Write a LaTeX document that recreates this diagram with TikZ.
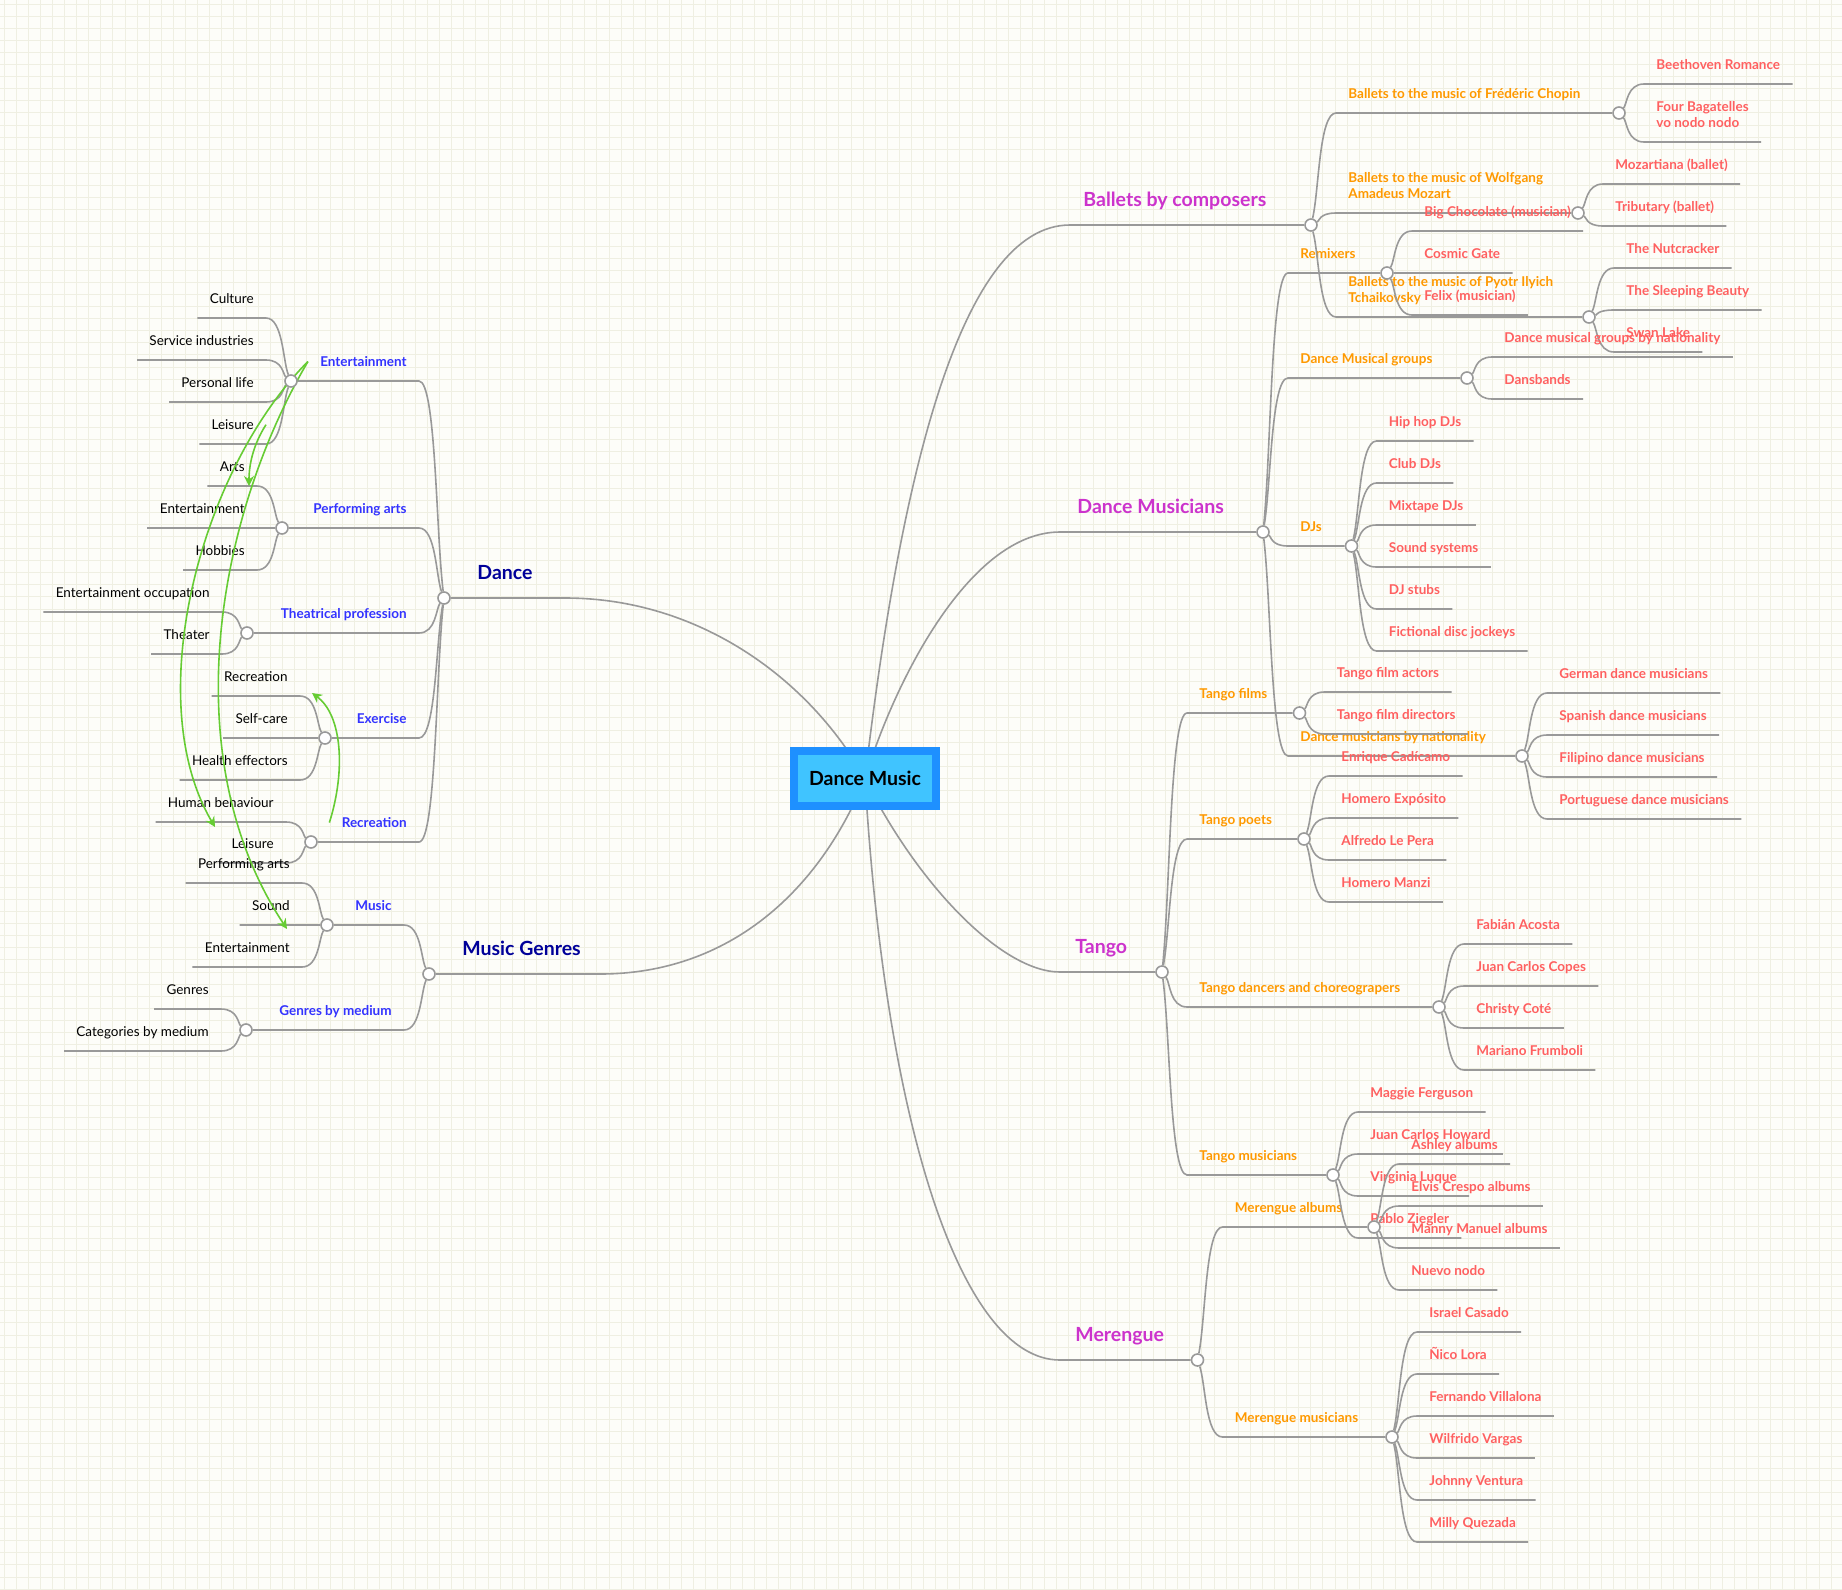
\documentclass[tikz,border=0pt]{standalone}
\usepackage{fontspec}
\setmainfont{Lato}
\usetikzlibrary{arrows.meta, calc}
\definecolor{paperBg}{HTML}{FDFDF9}
\definecolor{gridLine}{HTML}{EFEFE2}
\definecolor{branchGray}{HTML}{999999}
\definecolor{rootBlue}{HTML}{1E90FF}
\definecolor{rootFill}{HTML}{40C4FF}
\definecolor{navyTop}{HTML}{000099}
\definecolor{blueMid}{HTML}{3333FF}
\definecolor{magentaTop}{HTML}{CC33CC}
\definecolor{orangeMid}{HTML}{FF9900}
\definecolor{redLeaf}{HTML}{FF6060}
\definecolor{relGreen}{HTML}{66CC33}
\pgfdeclarelayer{top}
\pgfsetlayers{main,top}

\begin{document}
\begin{tikzpicture}[
    x=0.5pt, y=-0.5pt,
    branch/.style={draw=branchGray, line width=0.8pt},
    rel/.style={draw=relGreen, line width=0.8pt, -{Stealth[length=5pt, width=5pt]}},
    hub/.style={circle, draw=branchGray, fill=white, line width=0.8pt, minimum size=6pt, inner sep=0pt},
    rootbox/.style={rectangle, draw=rootBlue, fill=rootFill, line width=4pt, minimum width=71pt, minimum height=27.5pt, font=\fontsize{9.75}{11}\selectfont\bfseries},
    topL/.style={anchor=base west, inner sep=0pt, font=\fontsize{9.75}{11}\selectfont\bfseries, text=navyTop},
    topR/.style={topL, text=magentaTop},
    lbl/.style={inner xsep=6pt, inner ysep=7pt, text depth=0pt, align=left, font=\fontsize{6.75}{8}\selectfont},
    leafL/.style={lbl, anchor=south east},
    midL/.style={leafL, font=\fontsize{6.75}{8}\selectfont\bfseries, text=blueMid},
    leafR/.style={lbl, anchor=south west, font=\fontsize{6.75}{8}\selectfont\bfseries, text=redLeaf},
    midR/.style={leafR, text=orangeMid},
    kidR/.style={to path={.. controls ($(\tikztostart)!0.3!(\tikztostart |- \tikztotarget)+(8,0)$) and ($(\tikztostart |- \tikztotarget)+(8,0)$) .. (\tikztotarget) \tikztonodes}},
    kidL/.style={to path={.. controls ($(\tikztostart)!0.3!(\tikztostart |- \tikztotarget)+(-8,0)$) and ($(\tikztostart |- \tikztotarget)+(-8,0)$) .. (\tikztotarget) \tikztonodes}}
]
\useasboundingbox (0,0) rectangle (1842,1590);
\fill[paperBg] (0,0) rectangle (1842,1590);
\foreach \k in {0,...,151} \draw[gridLine, line width=0.5pt] ({4+12.1*\k},0) -- ({4+12.1*\k},1590);
\foreach \k in {0,...,131} \draw[gridLine, line width=0.5pt] (0,{4+12.1*\k}) -- (1842,{4+12.1*\k});

\begin{pgfonlayer}{top}
\node[rootbox] (root) at (865,778.5) {Dance Music};
\node[hub] (dance) at (444,598) {};
\node[hub] (genres) at (429,974) {};
\node[hub] (ballets) at (1311,225) {};
\node[hub] (dancemus) at (1263,532) {};
\node[hub] (tango) at (1162,972) {};
\node[hub] (merengue) at (1197.5,1360) {};
\node[hub] (ent) at (291,381) {};
\node[hub] (perf) at (282,528) {};
\node[hub] (theat) at (247,633) {};
\node[hub] (exer) at (325,738) {};
\node[hub] (recr) at (311,842) {};
\node[hub] (music) at (327,925) {};
\node[hub] (medium) at (246,1030) {};
\node[hub] (chopin) at (1619,113) {};
\node[hub] (mozart) at (1578,213) {};
\node[hub] (tchai) at (1589,317) {};
\node[hub] (remix) at (1387,273) {};
\node[hub] (groups) at (1467,378) {};
\node[hub] (djs) at (1351.5,546) {};
\node[hub] (natl) at (1522,756) {};
\node[hub] (films) at (1299.5,713) {};
\node[hub] (poets) at (1304,839) {};
\node[hub] (dancers) at (1439,1007) {};
\node[hub] (tmus) at (1333,1175) {};
\node[hub] (albums) at (1374,1227) {};
\node[hub] (mmus) at (1392,1437) {};
\end{pgfonlayer}

\node[topL] (danceL) at (477,579) {Dance};
\node[topL] (genresL) at (462,955) {Music Genres};
\node[topR] (balletsL) at (1083,206) {Ballets by composers};
\node[topR] (dancemusL) at (1077,513) {Dance Musicians};
\node[topR] (tangoL) at (1075,953) {Tango};
\node[topR] (merengueL) at (1075,1341) {Merengue};

\draw[branch] (dance) -- (565,598) .. controls (700,598) and (810,680) .. (root.center);
\draw[branch] (genres) -- (600,974) .. controls (730,974) and (820,890) .. (root.center);
\draw[branch] (root.center) .. controls (900,480) and (960,225) .. (1070,225) -- (ballets);
\draw[branch] (root.center) .. controls (895,680) and (970,532) .. (1060,532) -- (dancemus);
\draw[branch] (root.center) .. controls (915,880) and (1000,972) .. (1060,972) -- (tango);
\draw[branch] (root.center) .. controls (885,1120) and (960,1360) .. (1060,1360) -- (merengue);

\node[midL] (entL) at (419,381) {Entertainment};
\node[midL] (perfL) at (419,528) {Performing arts};
\node[midL] (theatL) at (419,633) {Theatrical profession};
\node[midL] (exerL) at (419,738) {Exercise};
\node[midL] (recrL) at (419,842) {Recreation};
\node[midL] (musicL) at (404,925) {Music};
\node[midL] (mediumL) at (404,1030) {Genres by medium};
\draw[branch] (dance) to[kidL] (entL.south east) -- (ent);
\draw[branch] (dance) to[kidL] (perfL.south east) -- (perf);
\draw[branch] (dance) to[kidL] (theatL.south east) -- (theat);
\draw[branch] (dance) to[kidL] (exerL.south east) -- (exer);
\draw[branch] (dance) to[kidL] (recrL.south east) -- (recr);
\draw[branch] (genres) to[kidL] (musicL.south east) -- (music);
\draw[branch] (genres) to[kidL] (mediumL.south east) -- (medium);

\node[midR] (chopinL) at (1336,113) {Ballets to the music of Frédéric Chopin};
\node[midR] (mozartL) at (1336,213) {Ballets to the music of Wolfgang\\Amadeus Mozart};
\node[midR] (tchaiL) at (1336,317) {Ballets to the music of Pyotr Ilyich\\Tchaikovsky};
\node[midR] (remixL) at (1288,273) {Remixers};
\node[midR] (groupsL) at (1288,378) {Dance Musical groups};
\node[midR] (djsL) at (1288,546) {DJs};
\node[midR] (natlL) at (1288,756) {Dance musicians by nationality};
\node[midR] (filmsL) at (1187,713) {Tango films};
\node[midR] (poetsL) at (1187,839) {Tango poets};
\node[midR] (dancersL) at (1187,1007) {Tango dancers and choreograpers};
\node[midR] (tmusL) at (1187,1175) {Tango musicians};
\node[midR] (albumsL) at (1222.5,1227) {Merengue albums};
\node[midR] (mmusL) at (1222.5,1437) {Merengue musicians};
\draw[branch] (ballets) to[kidR] (chopinL.south west) -- (chopin);
\draw[branch] (ballets) to[kidR] (mozartL.south west) -- (mozart);
\draw[branch] (ballets) to[kidR] (tchaiL.south west) -- (tchai);
\draw[branch] (dancemus) to[kidR] (remixL.south west) -- (remix);
\draw[branch] (dancemus) to[kidR] (groupsL.south west) -- (groups);
\draw[branch] (dancemus) to[kidR] (djsL.south west) -- (djs);
\draw[branch] (dancemus) to[kidR] (natlL.south west) -- (natl);
\draw[branch] (tango) to[kidR] (filmsL.south west) -- (films);
\draw[branch] (tango) to[kidR] (poetsL.south west) -- (poets);
\draw[branch] (tango) to[kidR] (dancersL.south west) -- (dancers);
\draw[branch] (tango) to[kidR] (tmusL.south west) -- (tmus);
\draw[branch] (merengue) to[kidR] (albumsL.south west) -- (albums);
\draw[branch] (merengue) to[kidR] (mmusL.south west) -- (mmus);

\foreach \y/\txt [count=\i] in {318/Culture, 360/Service industries, 402/Personal life, 444/Leisure}
  {\node[leafL] (ent\i) at (266,\y) {\txt}; \draw[branch] (ent) to[kidL] (ent\i.south east) -- (ent\i.south west);}
\foreach \y/\txt [count=\i] in {486/Arts, 528/Entertainment, 570/Hobbies}
  {\node[leafL] (perf\i) at (257,\y) {\txt}; \draw[branch] (perf) to[kidL] (perf\i.south east) -- (perf\i.south west);}
\foreach \y/\txt [count=\i] in {612/Entertainment occupation, 654/Theater}
  {\node[leafL] (theat\i) at (222,\y) {\txt}; \draw[branch] (theat) to[kidL] (theat\i.south east) -- (theat\i.south west);}
\foreach \y/\txt [count=\i] in {696/Recreation, 738/Self-care, 780/Health effectors}
  {\node[leafL] (exer\i) at (300,\y) {\txt}; \draw[branch] (exer) to[kidL] (exer\i.south east) -- (exer\i.south west);}
\foreach \y/\txt [count=\i] in {822/Human behaviour, 863/Leisure}
  {\node[leafL] (recr\i) at (286,\y) {\txt}; \draw[branch] (recr) to[kidL] (recr\i.south east) -- (recr\i.south west);}
\foreach \y/\txt [count=\i] in {883/Performing arts, 925/Sound, 967/Entertainment}
  {\node[leafL] (music\i) at (302,\y) {\txt}; \draw[branch] (music) to[kidL] (music\i.south east) -- (music\i.south west);}
\foreach \y/\txt [count=\i] in {1009/Genres, 1051/Categories by medium}
  {\node[leafL] (medium\i) at (221,\y) {\txt}; \draw[branch] (medium) to[kidL] (medium\i.south east) -- (medium\i.south west);}

\foreach \y/\txt [count=\i] in {84/Beethoven Romance, 142/Four Bagatelles\\vo nodo nodo}
  {\node[leafR] (chopin\i) at (1644,\y) {\txt}; \draw[branch] (chopin) to[kidR] (chopin\i.south west) -- (chopin\i.south east);}
\foreach \y/\txt [count=\i] in {184/Mozartiana (ballet), 226/Tributary (ballet)}
  {\node[leafR] (mozart\i) at (1603,\y) {\txt}; \draw[branch] (mozart) to[kidR] (mozart\i.south west) -- (mozart\i.south east);}
\foreach \y/\txt [count=\i] in {268/The Nutcracker, 310/The Sleeping Beauty, 352/Swan Lake}
  {\node[leafR] (tchai\i) at (1614,\y) {\txt}; \draw[branch] (tchai) to[kidR] (tchai\i.south west) -- (tchai\i.south east);}
\foreach \y/\txt [count=\i] in {231/Big Chocolate (musician), 273/Cosmic Gate, 315/Felix (musician)}
  {\node[leafR] (remix\i) at (1412,\y) {\txt}; \draw[branch] (remix) to[kidR] (remix\i.south west) -- (remix\i.south east);}
\foreach \y/\txt [count=\i] in {357/Dance musical groups by nationality, 399/Dansbands}
  {\node[leafR] (groups\i) at (1492,\y) {\txt}; \draw[branch] (groups) to[kidR] (groups\i.south west) -- (groups\i.south east);}
\foreach \y/\txt [count=\i] in {441/Hip hop DJs, 483/Club DJs, 525/Mixtape DJs, 567/Sound systems, 609/DJ stubs, 651/Fictional disc jockeys}
  {\node[leafR] (djs\i) at (1376.5,\y) {\txt}; \draw[branch] (djs) to[kidR] (djs\i.south west) -- (djs\i.south east);}
\foreach \y/\txt [count=\i] in {693/German dance musicians, 735/Spanish dance musicians, 777/Filipino dance musicians, 819/Portuguese dance musicians}
  {\node[leafR] (natl\i) at (1547,\y) {\txt}; \draw[branch] (natl) to[kidR] (natl\i.south west) -- (natl\i.south east);}
\foreach \y/\txt [count=\i] in {692/Tango film actors, 734/Tango film directors}
  {\node[leafR] (films\i) at (1324.5,\y) {\txt}; \draw[branch] (films) to[kidR] (films\i.south west) -- (films\i.south east);}
\foreach \y/\txt [count=\i] in {776/Enrique Cadícamo, 818/Homero Expósito, 860/Alfredo Le Pera, 902/Homero Manzi}
  {\node[leafR] (poets\i) at (1329,\y) {\txt}; \draw[branch] (poets) to[kidR] (poets\i.south west) -- (poets\i.south east);}
\foreach \y/\txt [count=\i] in {944/Fabián Acosta, 986/Juan Carlos Copes, 1028/Christy Coté, 1070/Mariano Frumboli}
  {\node[leafR] (dancers\i) at (1464,\y) {\txt}; \draw[branch] (dancers) to[kidR] (dancers\i.south west) -- (dancers\i.south east);}
\foreach \y/\txt [count=\i] in {1112/Maggie Ferguson, 1154/Juan Carlos Howard, 1196/Virginia Luque, 1238/Pablo Ziegler}
  {\node[leafR] (tmus\i) at (1358,\y) {\txt}; \draw[branch] (tmus) to[kidR] (tmus\i.south west) -- (tmus\i.south east);}
\foreach \y/\txt [count=\i] in {1164/Ashley albums, 1206/Elvis Crespo albums, 1248/Manny Manuel albums, 1290/Nuevo nodo}
  {\node[leafR] (albums\i) at (1399,\y) {\txt}; \draw[branch] (albums) to[kidR] (albums\i.south west) -- (albums\i.south east);}
\foreach \y/\txt [count=\i] in {1332/Israel Casado, 1374/Ñico Lora, 1416/Fernando Villalona, 1458/Wilfrido Vargas, 1500/Johnny Ventura, 1542/Milly Quezada}
  {\node[leafR] (mmus\i) at (1417,\y) {\txt}; \draw[branch] (mmus) to[kidR] (mmus\i.south west) -- (mmus\i.south east);}

\coordinate (hbTip) at (215,827);
\coordinate (soundTip) at (287,929);
\coordinate (artsTip) at (249,486);
\coordinate (exerTip) at (312,693);
\draw[rel] (entL.west) .. controls (200,470) and (140,700) .. (hbTip);
\draw[rel] (entL.west) .. controls (215,520) and (175,760) .. (soundTip);
\draw[rel] (ent4.east) .. controls (253,445) and (249,465) .. (artsTip);
\draw[rel] (recrL.west) .. controls (346,770) and (342,715) .. (exerTip);
\end{tikzpicture}
\end{document}
